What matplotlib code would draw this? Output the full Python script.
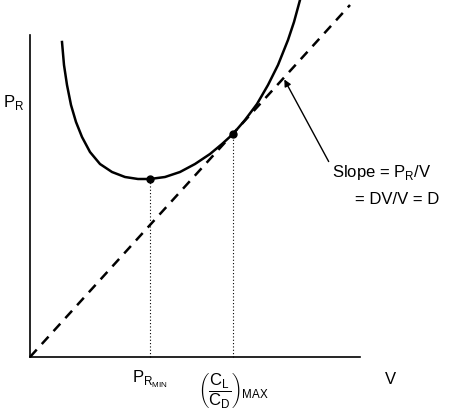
import matplotlib.pyplot as plt
plt.rcParams['font.family'] = ['Liberation Sans', 'DejaVu Sans']
plt.rcParams['mathtext.fontset'] = 'custom'
plt.rcParams['mathtext.rm'] = 'Liberation Sans'

# curve points (x = V, y = P_R)
curve_v = [32, 34, 37, 41, 46, 52, 60, 70, 82, 95, 108, 120, 135, 150, 165, 180, 192, 203, 215, 227, 238, 248, 258, 264, 270]
curve_p = [315, 292, 272, 252, 235, 220, 205, 193, 185, 180, 178, 178, 180, 185, 193, 203, 213, 223, 237, 253, 272, 292, 317, 335, 357]
line_v = [0, 320]
line_p = [0, 352]
pmin = (120, 178)
tangent = (203, 223)

fig = plt.figure(figsize=(4.74, 4.18), dpi=100)
ax = fig.add_axes([0, 0, 1, 1])
ax.set_xlim(-30, 444)
ax.set_ylim(-61, 357)
ax.axis('off')

ax.plot([0, 0], [0, 322], color='black', lw=1.2)
ax.plot([0, 330], [0, 0], color='black', lw=1.2)
ax.plot(curve_v, curve_p, color='black', lw=1.8, solid_joinstyle='round')
ax.plot(line_v, line_p, color='black', lw=1.8, ls=(0, (4, 3)))
for (x, y) in [pmin, tangent]:
    ax.plot([x], [y], 'o', color='black', ms=5)
    ax.plot([x, x], [0, y], color='black', lw=0.8, ls=(0, (1, 2)))

ax.text(-27, 255, r'P$_\mathrm{R}$', fontsize=12, va='center')
ax.text(120, -22, r'P$_{\mathrm{R}_\mathrm{MIN}}$', fontsize=12, ha='center', va='center')
ax.text(203, -33, r'$\left(\dfrac{\mathrm{C_L}}{\mathrm{C_D}}\right)_\mathrm{MAX}$', fontsize=12, ha='center', va='center')
ax.text(355, -22, 'V', fontsize=12, ha='left', va='center')
ax.text(302, 185, r'Slope = P$_\mathrm{R}$/V', fontsize=12, va='center')
ax.text(325, 158, '= DV/V = D', fontsize=12, va='center')
ax.annotate('', xy=(253, 280), xytext=(300, 193),
            arrowprops=dict(arrowstyle='-|>', color='black', lw=1))
fig.savefig('out.png', dpi=100)
